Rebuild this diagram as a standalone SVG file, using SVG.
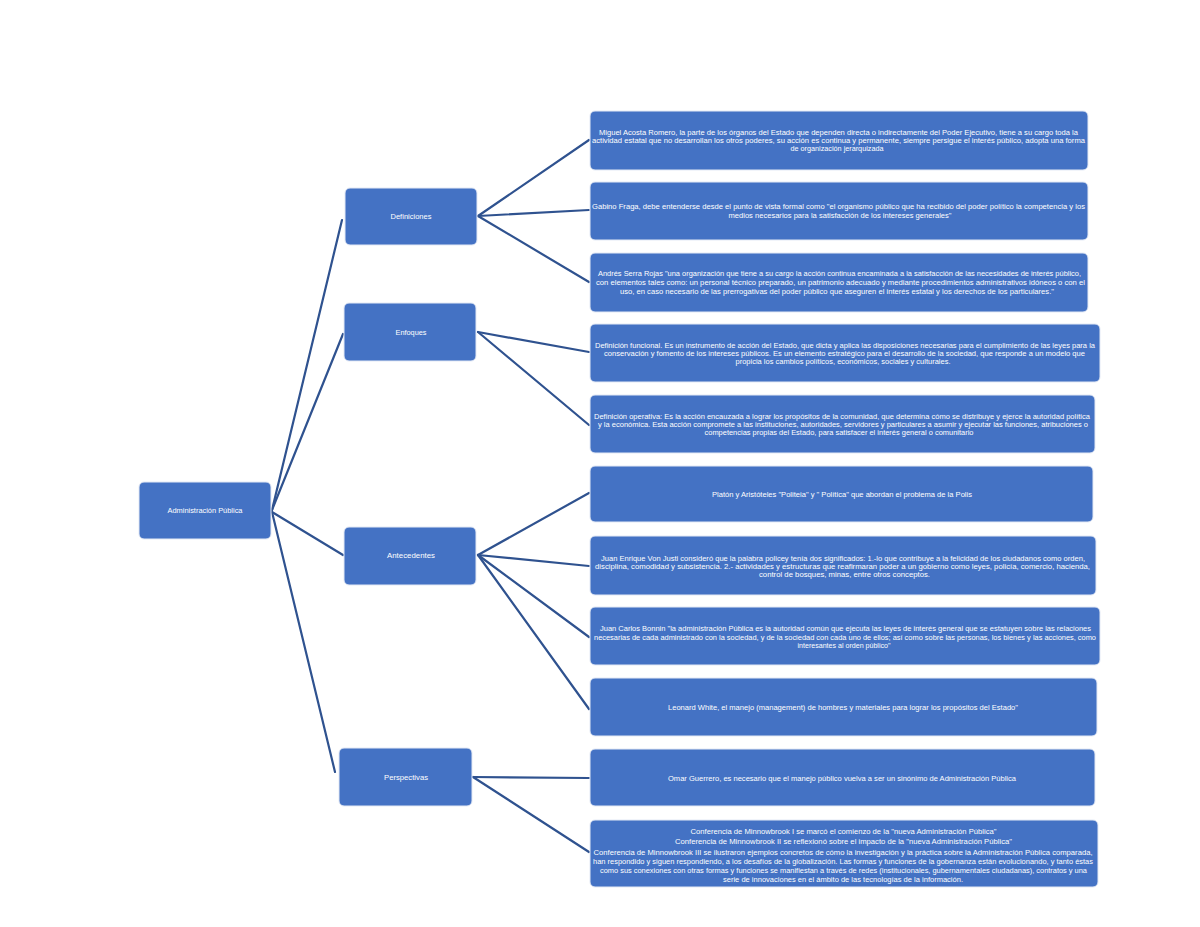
<svg xmlns="http://www.w3.org/2000/svg" width="1200" height="927" viewBox="0 0 1200 927">
<style>
.box{fill:#4472C4;stroke:#E3E9F5;stroke-width:1}
.t{font-family:"Liberation Sans",Arial,sans-serif;font-size:7.6px;fill:#FFFFFF;text-anchor:middle}
.h{font-family:"Liberation Sans",Arial,sans-serif;font-size:8px;fill:#FFFFFF;text-anchor:middle}
.c{fill:none;stroke:#2F528F;stroke-width:2.2;stroke-linecap:round}
</style>
<rect width="1200" height="927" fill="#FFFFFF"/>
<g id="connectors">
<path class="c" d="M272,510 L342,220"/>
<path class="c" d="M272,510 L343,334"/>
<path class="c" d="M272,512 L343,555"/>
<path class="c" d="M272,512 L335,772"/>
<path class="c" d="M478,216 L589,140"/>
<path class="c" d="M478,216 L589,210"/>
<path class="c" d="M478,216 L589,282"/>
<path class="c" d="M478,332 L589,352"/>
<path class="c" d="M478,332 L589,425"/>
<path class="c" d="M478,555 L589,493"/>
<path class="c" d="M478,555 L589,566"/>
<path class="c" d="M478,555 L589,637"/>
<path class="c" d="M478,555 L589,709"/>
<path class="c" d="M473,777 L589,778"/>
<path class="c" d="M473,777 L589,852"/>
</g>
<g id="admin">
<rect class="box" x="139" y="482" width="132" height="57" rx="5"/>
<text class="h" x="205" y="513" textLength="75" lengthAdjust="spacingAndGlyphs">Administración Pública</text>
</g>
<g id="definiciones">
<rect class="box" x="345" y="188" width="132" height="57" rx="5"/>
<text class="h" x="411" y="219" textLength="41" lengthAdjust="spacingAndGlyphs">Definiciones</text>
</g>
<g id="enfoques">
<rect class="box" x="344" y="303" width="132" height="58" rx="5"/>
<text class="h" x="411" y="335" textLength="31" lengthAdjust="spacingAndGlyphs">Enfoques</text>
</g>
<g id="antecedentes">
<rect class="box" x="344" y="527" width="132" height="58" rx="5"/>
<text class="h" x="411" y="558" textLength="48" lengthAdjust="spacingAndGlyphs">Antecedentes</text>
</g>
<g id="perspectivas">
<rect class="box" x="339" y="748" width="133" height="58" rx="5"/>
<text class="h" x="406" y="780" textLength="44" lengthAdjust="spacingAndGlyphs">Perspectivas</text>
</g>
<g id="acosta">
<rect class="box" x="590" y="111" width="498" height="59" rx="5"/>
<text class="t" x="838.5" y="134.7" textLength="479" lengthAdjust="spacingAndGlyphs">Miguel Acosta Romero, la parte de los órganos del Estado que dependen directa o indirectamente del Poder Ejecutivo, tiene a su cargo toda la</text>
<text class="t" x="838.5" y="143.4" textLength="493" lengthAdjust="spacingAndGlyphs">actividad estatal que no desarrollan los otros poderes, su acción es continua y permanente, siempre persigue el interés público, adopta una forma</text>
<text class="t" x="837" y="151.4" textLength="93" lengthAdjust="spacingAndGlyphs">de organización jerarquizada</text>
</g>
<g id="fraga">
<rect class="box" x="590" y="182" width="498" height="58" rx="5"/>
<text class="t" x="838.5" y="209.4" textLength="493" lengthAdjust="spacingAndGlyphs">Gabino Fraga, debe entenderse desde el punto de vista formal como "el organismo público que ha recibido del poder político la competencia y los</text>
<text class="t" x="840" y="217.7" textLength="223" lengthAdjust="spacingAndGlyphs">medios necesarios para la satisfacción de los intereses generales"</text>
</g>
<g id="serra">
<rect class="box" x="590" y="253" width="498" height="59" rx="5"/>
<text class="t" x="839.5" y="276.4" textLength="483" lengthAdjust="spacingAndGlyphs">Andrés Serra Rojas "una organización que tiene a su cargo la acción continua encaminada a la satisfacción de las necesidades de interés público,</text>
<text class="t" x="840.5" y="285.4" textLength="489" lengthAdjust="spacingAndGlyphs">con elementos tales como: un personal técnico preparado, un patrimonio adecuado y mediante procedimientos administrativos idóneos o con el</text>
<text class="t" x="837" y="293.7" textLength="434" lengthAdjust="spacingAndGlyphs">uso, en caso necesario de las prerrogativas del poder público que aseguren el interés estatal y los derechos de los particulares."</text>
</g>
<g id="funcional">
<rect class="box" x="590" y="324" width="510" height="58" rx="5"/>
<text class="t" x="845" y="347.7" textLength="500" lengthAdjust="spacingAndGlyphs">Definición funcional. Es un instrumento de acción del Estado, que dicta y aplica las disposiciones necesarias para el cumplimiento de las leyes para la</text>
<text class="t" x="844.5" y="356.4" textLength="481" lengthAdjust="spacingAndGlyphs">conservación y fomento de los intereses públicos. Es un elemento estratégico para el desarrollo de la sociedad, que responde a un modelo que</text>
<text class="t" x="843" y="364.2" textLength="215" lengthAdjust="spacingAndGlyphs">propicia los cambios políticos, económicos, sociales y culturales.</text>
</g>
<g id="operativa">
<rect class="box" x="590" y="395" width="505" height="58" rx="5"/>
<text class="t" x="842" y="418.7" textLength="496" lengthAdjust="spacingAndGlyphs">Definición operativa: Es la acción encauzada a lograr los propósitos de la comunidad, que determina cómo se distribuye y ejerce la autoridad política</text>
<text class="t" x="843" y="427" textLength="490" lengthAdjust="spacingAndGlyphs">y la económica. Esta acción compromete a las instituciones, autoridades, servidores y particulares a asumir y ejecutar las funciones, atribuciones o</text>
<text class="t" x="839" y="435.4" textLength="269" lengthAdjust="spacingAndGlyphs">competencias propias del Estado, para satisfacer el interés general o comunitario</text>
</g>
<g id="platon">
<rect class="box" x="590" y="466" width="503" height="56" rx="5"/>
<text class="t" x="842" y="497.2" textLength="260" lengthAdjust="spacingAndGlyphs">Platón y Aristóteles "Politeia" y " Política" que abordan el problema de la Polis</text>
</g>
<g id="justi">
<rect class="box" x="590" y="536" width="506" height="59" rx="5"/>
<text class="t" x="843" y="560.7" textLength="484" lengthAdjust="spacingAndGlyphs">Juan Enrique Von Justi consideró que la palabra policey tenía dos significados: 1.-lo que contribuye a la felicidad de los ciudadanos como orden,</text>
<text class="t" x="842.5" y="569.4" textLength="495" lengthAdjust="spacingAndGlyphs">disciplina, comodidad y subsistencia. 2.- actividades y estructuras que reafirmaran poder a un gobierno como leyes, policía, comercio, hacienda,</text>
<text class="t" x="844.5" y="577.4" textLength="171" lengthAdjust="spacingAndGlyphs">control de bosques, minas, entre otros conceptos.</text>
</g>
<g id="bonnin">
<rect class="box" x="590" y="607" width="510" height="58" rx="5"/>
<text class="t" x="845.5" y="631" textLength="491" lengthAdjust="spacingAndGlyphs">Juan Carlos Bonnin "la administración Pública es la autoridad común que ejecuta las leyes de interés general que se estatuyen sobre las relaciones</text>
<text class="t" x="845" y="640" textLength="502" lengthAdjust="spacingAndGlyphs">necesarias de cada administrado con la sociedad, y de la sociedad con cada uno de ellos; así como sobre las personas, los bienes y las acciones, como</text>
<text class="t" x="844" y="648.4" textLength="93" lengthAdjust="spacingAndGlyphs">interesantes al orden público"</text>
</g>
<g id="white">
<rect class="box" x="590" y="678" width="507" height="58" rx="5"/>
<text class="t" x="843" y="710.2" textLength="350" lengthAdjust="spacingAndGlyphs">Leonard White, el manejo (management) de hombres y materiales para lograr los propósitos del Estado"</text>
</g>
<g id="guerrero">
<rect class="box" x="590" y="749" width="505" height="57" rx="5"/>
<text class="t" x="842" y="781.2" textLength="348" lengthAdjust="spacingAndGlyphs">Omar Guerrero, es necesario que el manejo público vuelva a ser un sinónimo de Administración Pública</text>
</g>
<g id="minnowbrook">
<rect class="box" x="590" y="820" width="508" height="67" rx="5"/>
<text class="t" x="843.5" y="833.5" textLength="306" lengthAdjust="spacingAndGlyphs">Conferencia de Minnowbrook I se marcó el comienzo de la "nueva Administración Pública"</text>
<text class="t" x="843.5" y="844.2" textLength="337" lengthAdjust="spacingAndGlyphs">Conferencia de Minnowbrook II se reflexionó sobre el impacto de la "nueva Administración Pública"</text>
<text class="t" x="843" y="854.5" textLength="499" lengthAdjust="spacingAndGlyphs">Conferencia de Minnowbrook III se ilustraron ejemplos concretos de cómo la investigación y la práctica sobre la Administración Pública comparada,</text>
<text class="t" x="843" y="863.5" textLength="500" lengthAdjust="spacingAndGlyphs">han respondido y siguen respondiendo, a los desafíos de la globalización. Las formas y funciones de la gobernanza están evolucionando, y tanto éstas</text>
<text class="t" x="843.5" y="872.8" textLength="487" lengthAdjust="spacingAndGlyphs">como sus conexiones con otras formas y funciones se manifiestan a través de redes (institucionales, gubernamentales ciudadanas), contratos y una</text>
<text class="t" x="843" y="881.8" textLength="240" lengthAdjust="spacingAndGlyphs">serie de innovaciones en el ámbito de las tecnologías de la información.</text>
</g>
</svg>
